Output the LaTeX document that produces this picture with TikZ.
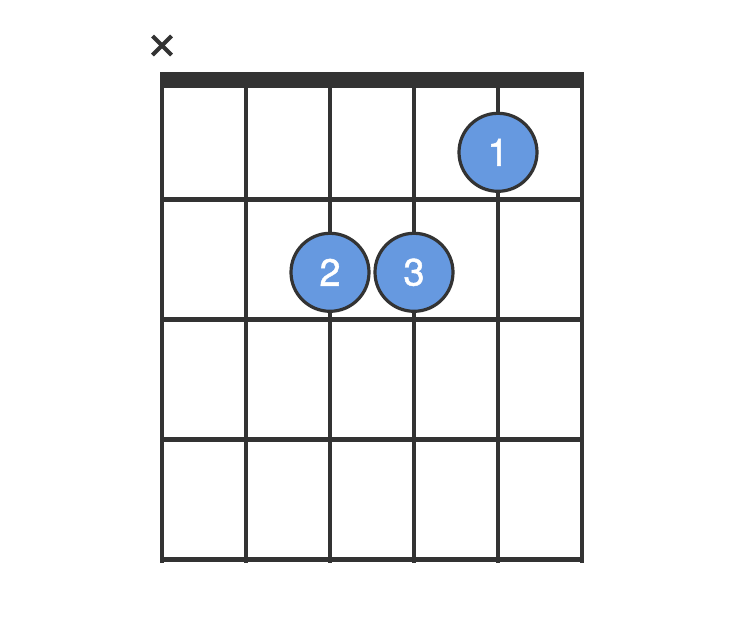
\documentclass[tikz,border=0pt]{standalone}
\usepackage{fontspec}
\newfontfamily\fingerfont[FakeBold=1.2]{TeX Gyre Heros}
\begin{document}
\begin{tikzpicture}[x=1pt,y=-1pt,
  fingerdot/.style={circle,draw=lineColor,line width=3.2pt,fill=dotColor,text=white,
    minimum size=78pt,inner sep=0pt,font=\fingerfont\fontsize{38}{38}\selectfont}]
\definecolor{lineColor}{RGB}{51,51,51}
\definecolor{dotColor}{RGB}{102,153,224}
\definecolor{fillColor}{RGB}{255,255,255}
\path[use as bounding box,fill=fillColor] (0,0) rectangle (750,624);

% nut
\path[fill=lineColor] (160, 72) rectangle (584, 88);

% strings
\path[draw=lineColor,line width= 4pt] (162, 80) -- (162,562.5);

\path[draw=lineColor,line width= 4pt] (246, 80) -- (246,562.5);

\path[draw=lineColor,line width= 4pt] (330, 80) -- (330,562.5);

\path[draw=lineColor,line width= 4pt] (414, 80) -- (414,562.5);

\path[draw=lineColor,line width= 4pt] (498, 80) -- (498,562.5);

\path[draw=lineColor,line width= 4pt] (582, 80) -- (582,562.5);

% frets
\path[draw=lineColor,line width= 5.5pt] (160,199.5) -- (584,199.5);

\path[draw=lineColor,line width= 5.5pt] (160,319.5) -- (584,319.5);

\path[draw=lineColor,line width= 5.5pt] (160,439.5) -- (584,439.5);

\path[draw=lineColor,line width= 5.5pt] (160,559.5) -- (584,559.5);

% muted string
\coordinate (mute) at (162, 45.5);
\path[draw=lineColor,line width= 4pt] ([shift={(-9.5,-9.5)}]mute) -- ([shift={(9.5,9.5)}]mute);
\path[draw=lineColor,line width= 4pt] ([shift={(-9.5,9.5)}]mute) -- ([shift={(9.5,-9.5)}]mute);

% fingers
\node[fingerdot] (dot1) at (498,152.3) {1};

\node[fingerdot] (dot2) at (330,272.3) {2};

\node[fingerdot] (dot3) at (414,272.3) {3};
\end{tikzpicture}
\end{document}
